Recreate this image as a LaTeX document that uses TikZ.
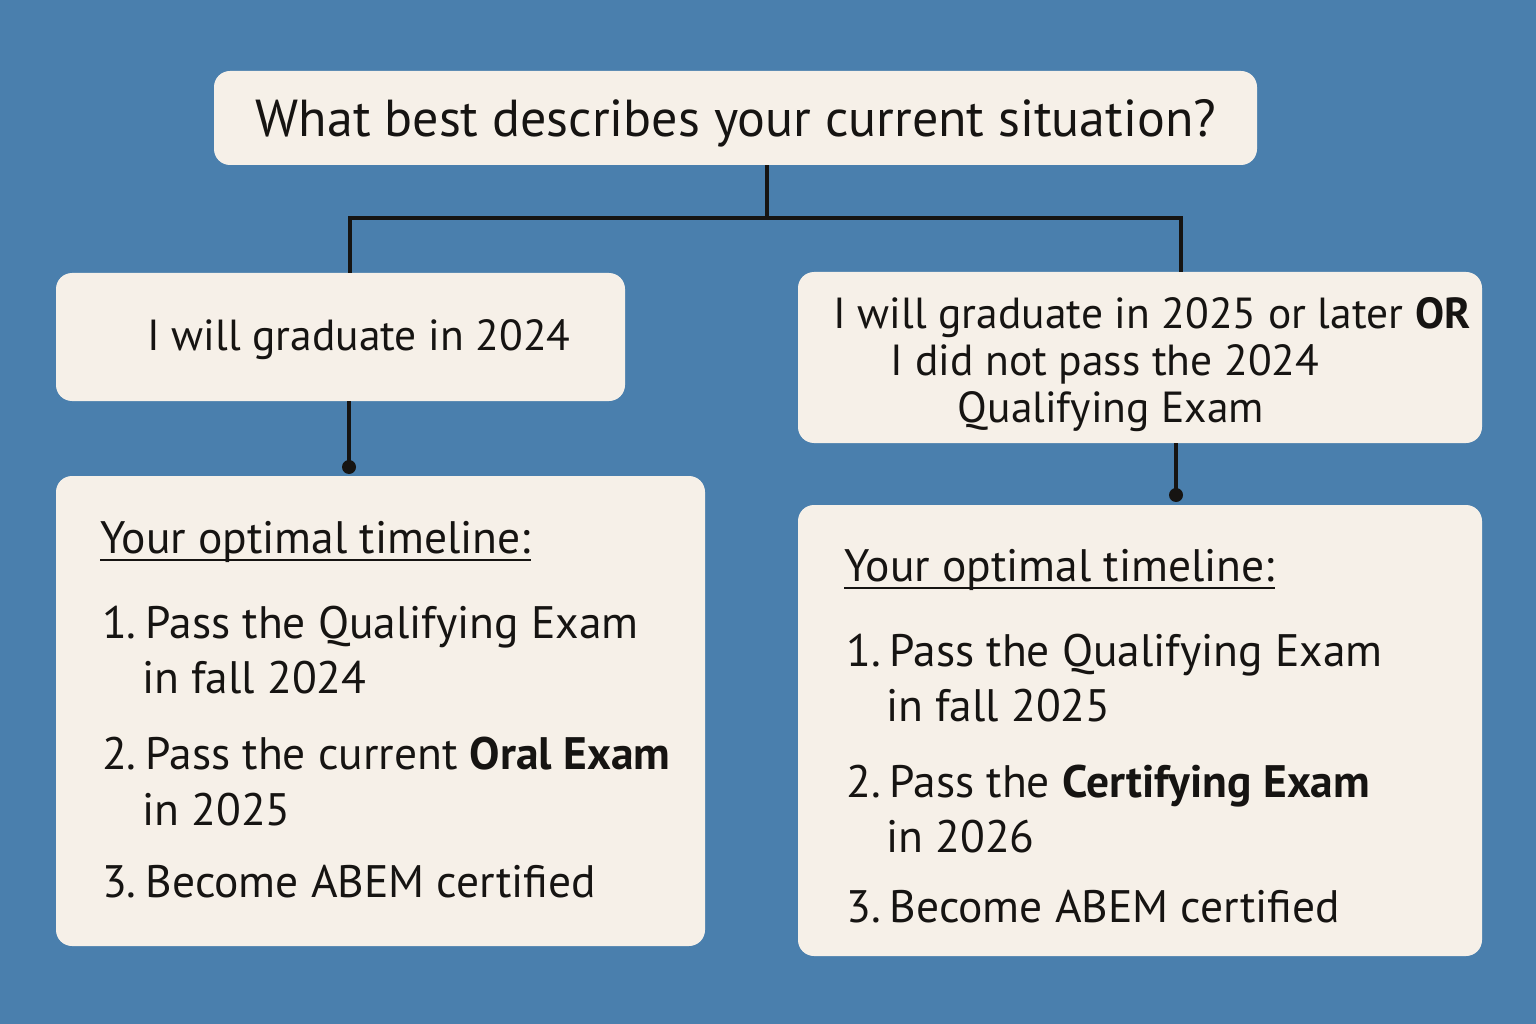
\documentclass[tikz,border=0pt]{standalone}
\usepackage{fontspec}
\setmainfont{PT Sans}
\usetikzlibrary{calc}
\definecolor{bgblue}{RGB}{74,127,173}
\definecolor{cream}{RGB}{246,240,232}
\definecolor{ink}{RGB}{22,20,18}
\tikzset{
  box/.style={fill=cream, rounded corners=16pt, draw=none, inner sep=0pt},
  conn/.style={draw=ink, line width=3.5pt},
  txt/.style={inner sep=0pt, anchor=base west, text=ink},
  big/.style={font=\fontsize{52}{60}\selectfont},
  mid/.style={font=\fontsize{43.5}{50}\selectfont},
  small/.style={font=\fontsize{45.5}{50}\selectfont},
}
\begin{document}
\begin{tikzpicture}[x=1pt,y=-1pt]
\useasboundingbox (0,0) rectangle (1536,1024);
\fill[bgblue] (0,0) rectangle (1536,1024);
% boxes
\node[box, minimum width=1043pt, minimum height=94pt] (top) at (735.5,118) {};
\node[box, minimum width=569pt, minimum height=128pt] (left) at (340.5,337) {};
\node[box, minimum width=684pt, minimum height=171pt] (right) at (1140,357.5) {};
\node[box, minimum width=649pt, minimum height=470pt] (lowL) at (380.5,711) {};
\node[box, minimum width=684pt, minimum height=451pt] (lowR) at (1140,730.5) {};
% connectors
\coordinate (jT) at (767,218);
\coordinate (jL) at (350,218);
\coordinate (jR) at (1181,218);
\coordinate (dotL) at (349,467);
\coordinate (dotR) at (1176,495);
\draw[conn] (top.south -| jT) -- (jT);
\draw[conn, line cap=rect] (jL) -- (jR);
\draw[conn] (jL) -- (jL |- left.north);
\draw[conn] (jR) -- (jR |- right.north);
\draw[conn] (left.south -| dotL) -- (dotL);
\draw[conn] (right.south -| dotR) -- (dotR);
\fill[ink] (dotL) circle (7);
\fill[ink] (dotR) circle (7);
% texts
\node[txt, big, anchor=base] (tq) at (736,137) {What best describes your current situation?};
\node[txt, mid, anchor=base] (tl) at (359,350) {I will graduate in 2024};
\node[txt, mid, anchor=base] (tr1) at (1152,328) {I will graduate in 2025 or later \textbf{OR}};
\node[txt, mid, anchor=base] (tr2) at (1105,375) {I did not pass the 2024};
\node[txt, mid, anchor=base] (tr3) at (1111,422) {Qualifying Exam};
% left timeline
\node[txt, small] (hL) at (100,553) {Your optimal timeline:};
\draw[ink, line width=2pt] ([yshift=-7pt]hL.base west) -- ([yshift=-7pt]hL.base east);
\node[txt, small] (l1) at (102,638) {1.\hspace{0.2em}Pass the Qualifying Exam};
\node[txt, small] (l1b) at (142,693) {in fall 2024};
\node[txt, small] (l2) at (102,769) {2.\hspace{0.2em}Pass the current \textbf{Oral Exam}};
\node[txt, small] (l2b) at (142,825) {in 2025};
\node[txt, small] (l3) at (102,897) {3.\hspace{0.2em}Become ABEM certified};
% right timeline
\node[txt, small] (hR) at (844,581) {Your optimal timeline:};
\draw[ink, line width=2pt] ([yshift=-7pt]hR.base west) -- ([yshift=-7pt]hR.base east);
\node[txt, small] (r1) at (846,666) {1.\hspace{0.2em}Pass the Qualifying Exam};
\node[txt, small] (r1b) at (886,721) {in fall 2025};
\node[txt, small] (r2) at (846,797) {2.\hspace{0.2em}Pass the \textbf{Certifying Exam}};
\node[txt, small] (r2b) at (886,852) {in 2026};
\node[txt, small] (r3) at (846,922) {3.\hspace{0.2em}Become ABEM certified};
\end{tikzpicture}
\end{document}
